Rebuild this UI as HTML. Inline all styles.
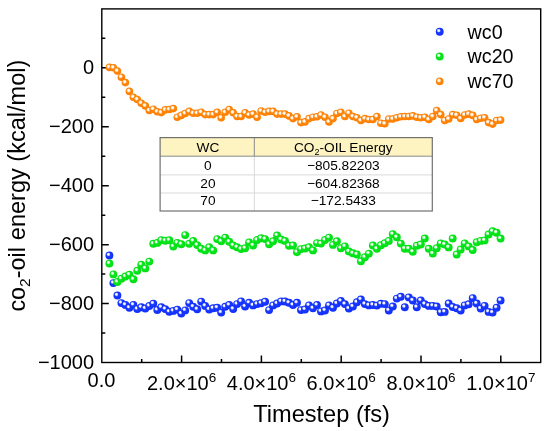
<!DOCTYPE html>
<html><head><meta charset="utf-8"><title>CO2-oil energy</title>
<style>
html,body{margin:0;padding:0;background:#fff;}
svg{display:block;font-family:"Liberation Sans", Arial, sans-serif;}
text{fill:#000;}
</style></head><body>
<svg width="550" height="431" viewBox="0 0 550 431">
<defs>
<radialGradient id="hl" cx="0.5" cy="0.5" r="0.5">
<stop offset="0" stop-color="#fff" stop-opacity="1"/><stop offset="0.4" stop-color="#fff" stop-opacity="0.92"/><stop offset="1" stop-color="#fff" stop-opacity="0"/>
</radialGradient>
<radialGradient id="gb" cx="0.5" cy="0.5" r="0.5" fx="0.36" fy="0.34"><stop offset="0" stop-color="#5a76ff"/><stop offset="0.5" stop-color="#1a38ff"/><stop offset="1" stop-color="#102efa"/></radialGradient>
<radialGradient id="gg" cx="0.5" cy="0.5" r="0.5" fx="0.36" fy="0.34"><stop offset="0" stop-color="#50f060"/><stop offset="0.5" stop-color="#08e61c"/><stop offset="1" stop-color="#02de14"/></radialGradient>
<radialGradient id="go" cx="0.5" cy="0.5" r="0.5" fx="0.38" fy="0.36"><stop offset="0" stop-color="#ffa850"/><stop offset="0.5" stop-color="#ff860c"/><stop offset="1" stop-color="#ff7e00"/></radialGradient>
<g id="mb"><circle r="3.95" fill="url(#gb)"/><circle cx="-1.0" cy="-1.15" r="2.15" fill="url(#hl)"/></g>
<g id="mg"><circle r="3.95" fill="url(#gg)"/><circle cx="-1.0" cy="-1.15" r="2.15" fill="url(#hl)"/></g>
<g id="mo"><circle r="3.8000000000000003" fill="url(#go)"/><circle cx="-0.8" cy="-0.9" r="2.4" fill="url(#hl)"/></g>
</defs>
<rect x="0" y="0" width="550" height="431" fill="#fff"/>

<rect x="101.8" y="8.9" width="438.9" height="353.6" fill="none" stroke="#000" stroke-width="1.4"/>
<path d="M101.8 38.37h3.5 M101.8 67.83h7 M101.8 97.30h3.5 M101.8 126.77h7 M101.8 156.23h3.5 M101.8 185.70h7 M101.8 215.17h3.5 M101.8 244.63h7 M101.8 274.10h3.5 M101.8 303.57h7 M101.8 333.03h3.5 M141.70 362.5v-3.5 M181.60 362.5v-7 M221.50 362.5v-3.5 M261.40 362.5v-7 M301.30 362.5v-3.5 M341.20 362.5v-7 M381.10 362.5v-3.5 M421.00 362.5v-7 M460.90 362.5v-3.5 M500.80 362.5v-7" stroke="#000" stroke-width="1.5" fill="none"/>
<text x="94.1" y="74.1" font-size="20" text-anchor="end">0</text>
<text x="94.1" y="133.1" font-size="20" text-anchor="end">−200</text>
<text x="94.1" y="192.0" font-size="20" text-anchor="end">−400</text>
<text x="94.1" y="250.9" font-size="20" text-anchor="end">−600</text>
<text x="94.1" y="309.9" font-size="20" text-anchor="end">−800</text>
<text x="94.1" y="368.8" font-size="20" text-anchor="end">−1000</text>
<text x="101.5" y="386.6" font-size="20" text-anchor="middle">0.0</text>
<text x="181.6" y="389.5" font-size="20" text-anchor="middle">2.0×10<tspan font-size="13.5" dy="-7.4">6</tspan></text>
<text x="261.4" y="389.5" font-size="20" text-anchor="middle">4.0×10<tspan font-size="13.5" dy="-7.4">6</tspan></text>
<text x="341.2" y="389.5" font-size="20" text-anchor="middle">6.0×10<tspan font-size="13.5" dy="-7.4">6</tspan></text>
<text x="421.0" y="389.5" font-size="20" text-anchor="middle">8.0×10<tspan font-size="13.5" dy="-7.4">6</tspan></text>
<text x="500.8" y="389.5" font-size="20" text-anchor="middle">1.0×10<tspan font-size="13.5" dy="-7.4">7</tspan></text>
<text x="321.6" y="422" font-size="23.6" text-anchor="middle">Timestep (fs)</text>
<text transform="translate(24.6 311.6) rotate(-90)" font-size="23.4">co<tspan font-size="15.5" dy="5">2</tspan><tspan dy="-5">-oil</tspan></text>
<text transform="translate(24.6 240.2) rotate(-90)" font-size="23.55">energy (kcal/mol)</text>
<g><use href="#mb" x="109.4" y="255.5"/>
<use href="#mb" x="113.4" y="283.1"/>
<use href="#mb" x="117.4" y="295.5"/>
<use href="#mb" x="121.4" y="303.1"/>
<use href="#mb" x="125.4" y="304.9"/>
<use href="#mb" x="129.4" y="307.8"/>
<use href="#mb" x="133.4" y="304.9"/>
<use href="#mb" x="137.3" y="309.1"/>
<use href="#mb" x="141.3" y="307.3"/>
<use href="#mb" x="145.3" y="308.5"/>
<use href="#mb" x="149.3" y="306.0"/>
<use href="#mb" x="153.3" y="303.6"/>
<use href="#mb" x="157.3" y="310.0"/>
<use href="#mb" x="161.3" y="307.3"/>
<use href="#mb" x="165.3" y="309.1"/>
<use href="#mb" x="169.3" y="311.8"/>
<use href="#mb" x="173.3" y="310.9"/>
<use href="#mb" x="177.3" y="309.6"/>
<use href="#mb" x="181.3" y="313.6"/>
<use href="#mb" x="185.2" y="310.4"/>
<use href="#mb" x="189.2" y="303.1"/>
<use href="#mb" x="193.2" y="306.7"/>
<use href="#mb" x="197.2" y="309.3"/>
<use href="#mb" x="201.2" y="301.6"/>
<use href="#mb" x="205.2" y="305.9"/>
<use href="#mb" x="209.2" y="309.5"/>
<use href="#mb" x="213.2" y="308.3"/>
<use href="#mb" x="217.2" y="307.7"/>
<use href="#mb" x="221.2" y="312.6"/>
<use href="#mb" x="225.2" y="306.8"/>
<use href="#mb" x="229.2" y="305.0"/>
<use href="#mb" x="233.2" y="309.0"/>
<use href="#mb" x="237.1" y="304.1"/>
<use href="#mb" x="241.1" y="301.4"/>
<use href="#mb" x="245.1" y="306.5"/>
<use href="#mb" x="249.1" y="302.8"/>
<use href="#mb" x="253.1" y="305.4"/>
<use href="#mb" x="257.1" y="304.1"/>
<use href="#mb" x="261.1" y="303.2"/>
<use href="#mb" x="265.1" y="301.7"/>
<use href="#mb" x="269.1" y="310.1"/>
<use href="#mb" x="273.1" y="305.4"/>
<use href="#mb" x="277.1" y="303.5"/>
<use href="#mb" x="281.1" y="301.4"/>
<use href="#mb" x="285.0" y="301.5"/>
<use href="#mb" x="289.0" y="302.8"/>
<use href="#mb" x="293.0" y="305.0"/>
<use href="#mb" x="297.0" y="302.8"/>
<use href="#mb" x="301.0" y="310.1"/>
<use href="#mb" x="305.0" y="309.5"/>
<use href="#mb" x="309.0" y="305.4"/>
<use href="#mb" x="313.0" y="308.3"/>
<use href="#mb" x="317.0" y="305.0"/>
<use href="#mb" x="321.0" y="311.4"/>
<use href="#mb" x="325.0" y="310.5"/>
<use href="#mb" x="329.0" y="305.4"/>
<use href="#mb" x="333.0" y="307.7"/>
<use href="#mb" x="336.9" y="303.5"/>
<use href="#mb" x="340.9" y="301.0"/>
<use href="#mb" x="344.9" y="304.1"/>
<use href="#mb" x="348.9" y="308.6"/>
<use href="#mb" x="352.9" y="306.5"/>
<use href="#mb" x="356.9" y="302.3"/>
<use href="#mb" x="360.9" y="299.5"/>
<use href="#mb" x="364.9" y="304.1"/>
<use href="#mb" x="368.9" y="305.4"/>
<use href="#mb" x="372.9" y="305.0"/>
<use href="#mb" x="376.9" y="305.6"/>
<use href="#mb" x="380.9" y="303.8"/>
<use href="#mb" x="384.8" y="304.1"/>
<use href="#mb" x="388.8" y="310.5"/>
<use href="#mb" x="392.8" y="306.5"/>
<use href="#mb" x="396.8" y="298.6"/>
<use href="#mb" x="400.8" y="296.8"/>
<use href="#mb" x="404.8" y="307.2"/>
<use href="#mb" x="408.8" y="297.4"/>
<use href="#mb" x="412.8" y="300.5"/>
<use href="#mb" x="416.8" y="307.2"/>
<use href="#mb" x="420.8" y="300.5"/>
<use href="#mb" x="424.8" y="304.1"/>
<use href="#mb" x="428.8" y="305.9"/>
<use href="#mb" x="432.8" y="305.9"/>
<use href="#mb" x="436.7" y="306.5"/>
<use href="#mb" x="440.7" y="312.3"/>
<use href="#mb" x="444.7" y="311.9"/>
<use href="#mb" x="448.7" y="303.5"/>
<use href="#mb" x="452.7" y="307.0"/>
<use href="#mb" x="456.7" y="308.3"/>
<use href="#mb" x="460.7" y="310.5"/>
<use href="#mb" x="464.7" y="305.4"/>
<use href="#mb" x="468.7" y="304.3"/>
<use href="#mb" x="472.7" y="298.1"/>
<use href="#mb" x="476.7" y="303.5"/>
<use href="#mb" x="480.7" y="308.6"/>
<use href="#mb" x="484.6" y="305.9"/>
<use href="#mb" x="488.6" y="311.9"/>
<use href="#mb" x="492.6" y="312.6"/>
<use href="#mb" x="496.6" y="307.7"/>
<use href="#mb" x="500.6" y="300.5"/></g>
<g><use href="#mg" x="109.4" y="263.5"/>
<use href="#mg" x="113.4" y="274.4"/>
<use href="#mg" x="117.4" y="282.0"/>
<use href="#mg" x="121.4" y="278.7"/>
<use href="#mg" x="125.4" y="276.5"/>
<use href="#mg" x="129.4" y="274.7"/>
<use href="#mg" x="133.4" y="279.3"/>
<use href="#mg" x="137.3" y="270.7"/>
<use href="#mg" x="141.3" y="264.7"/>
<use href="#mg" x="145.3" y="268.4"/>
<use href="#mg" x="149.3" y="261.6"/>
<use href="#mg" x="153.3" y="243.8"/>
<use href="#mg" x="157.3" y="242.9"/>
<use href="#mg" x="161.3" y="240.2"/>
<use href="#mg" x="165.3" y="240.7"/>
<use href="#mg" x="169.3" y="240.2"/>
<use href="#mg" x="173.3" y="246.5"/>
<use href="#mg" x="177.3" y="242.9"/>
<use href="#mg" x="181.3" y="244.2"/>
<use href="#mg" x="185.2" y="235.1"/>
<use href="#mg" x="189.2" y="243.8"/>
<use href="#mg" x="193.2" y="241.0"/>
<use href="#mg" x="197.2" y="245.1"/>
<use href="#mg" x="201.2" y="248.7"/>
<use href="#mg" x="205.2" y="250.4"/>
<use href="#mg" x="209.2" y="247.3"/>
<use href="#mg" x="213.2" y="250.4"/>
<use href="#mg" x="217.2" y="239.1"/>
<use href="#mg" x="221.2" y="241.3"/>
<use href="#mg" x="225.2" y="237.6"/>
<use href="#mg" x="229.2" y="241.8"/>
<use href="#mg" x="233.2" y="245.5"/>
<use href="#mg" x="237.1" y="247.3"/>
<use href="#mg" x="241.1" y="249.1"/>
<use href="#mg" x="245.1" y="248.2"/>
<use href="#mg" x="249.1" y="242.4"/>
<use href="#mg" x="253.1" y="245.5"/>
<use href="#mg" x="257.1" y="240.0"/>
<use href="#mg" x="261.1" y="238.2"/>
<use href="#mg" x="265.1" y="239.1"/>
<use href="#mg" x="269.1" y="244.2"/>
<use href="#mg" x="273.1" y="241.3"/>
<use href="#mg" x="277.1" y="235.5"/>
<use href="#mg" x="281.1" y="239.5"/>
<use href="#mg" x="285.0" y="240.9"/>
<use href="#mg" x="289.0" y="245.8"/>
<use href="#mg" x="293.0" y="245.5"/>
<use href="#mg" x="297.0" y="252.2"/>
<use href="#mg" x="301.0" y="249.1"/>
<use href="#mg" x="305.0" y="248.5"/>
<use href="#mg" x="309.0" y="247.3"/>
<use href="#mg" x="313.0" y="250.4"/>
<use href="#mg" x="317.0" y="243.1"/>
<use href="#mg" x="321.0" y="243.6"/>
<use href="#mg" x="325.0" y="240.0"/>
<use href="#mg" x="329.0" y="237.6"/>
<use href="#mg" x="333.0" y="244.9"/>
<use href="#mg" x="336.9" y="241.3"/>
<use href="#mg" x="340.9" y="248.2"/>
<use href="#mg" x="344.9" y="246.4"/>
<use href="#mg" x="348.9" y="251.5"/>
<use href="#mg" x="352.9" y="253.3"/>
<use href="#mg" x="356.9" y="254.5"/>
<use href="#mg" x="360.9" y="261.3"/>
<use href="#mg" x="364.9" y="257.3"/>
<use href="#mg" x="368.9" y="253.6"/>
<use href="#mg" x="372.9" y="245.5"/>
<use href="#mg" x="376.9" y="248.8"/>
<use href="#mg" x="380.9" y="245.2"/>
<use href="#mg" x="384.8" y="243.3"/>
<use href="#mg" x="388.8" y="240.9"/>
<use href="#mg" x="392.8" y="234.2"/>
<use href="#mg" x="396.8" y="237.3"/>
<use href="#mg" x="400.8" y="243.6"/>
<use href="#mg" x="404.8" y="248.7"/>
<use href="#mg" x="408.8" y="248.7"/>
<use href="#mg" x="412.8" y="251.8"/>
<use href="#mg" x="416.8" y="245.8"/>
<use href="#mg" x="420.8" y="244.5"/>
<use href="#mg" x="424.8" y="238.5"/>
<use href="#mg" x="428.8" y="248.7"/>
<use href="#mg" x="432.8" y="253.6"/>
<use href="#mg" x="436.7" y="248.2"/>
<use href="#mg" x="440.7" y="243.4"/>
<use href="#mg" x="444.7" y="244.5"/>
<use href="#mg" x="448.7" y="247.4"/>
<use href="#mg" x="452.7" y="238.5"/>
<use href="#mg" x="456.7" y="254.5"/>
<use href="#mg" x="460.7" y="249.5"/>
<use href="#mg" x="464.7" y="243.4"/>
<use href="#mg" x="468.7" y="246.4"/>
<use href="#mg" x="472.7" y="250.0"/>
<use href="#mg" x="476.7" y="242.2"/>
<use href="#mg" x="480.7" y="240.9"/>
<use href="#mg" x="484.6" y="240.4"/>
<use href="#mg" x="488.6" y="234.5"/>
<use href="#mg" x="492.6" y="231.3"/>
<use href="#mg" x="496.6" y="232.7"/>
<use href="#mg" x="500.6" y="238.5"/></g>
<g><use href="#mo" x="109.4" y="67.4"/>
<use href="#mo" x="113.4" y="67.7"/>
<use href="#mo" x="117.4" y="71.0"/>
<use href="#mo" x="121.4" y="77.2"/>
<use href="#mo" x="125.4" y="82.6"/>
<use href="#mo" x="129.4" y="91.4"/>
<use href="#mo" x="133.4" y="97.2"/>
<use href="#mo" x="137.3" y="99.5"/>
<use href="#mo" x="141.3" y="103.2"/>
<use href="#mo" x="145.3" y="105.9"/>
<use href="#mo" x="149.3" y="110.5"/>
<use href="#mo" x="153.3" y="109.2"/>
<use href="#mo" x="157.3" y="111.7"/>
<use href="#mo" x="161.3" y="112.6"/>
<use href="#mo" x="165.3" y="109.9"/>
<use href="#mo" x="169.3" y="109.5"/>
<use href="#mo" x="173.3" y="108.6"/>
<use href="#mo" x="177.3" y="117.2"/>
<use href="#mo" x="181.3" y="115.4"/>
<use href="#mo" x="185.2" y="113.5"/>
<use href="#mo" x="189.2" y="111.4"/>
<use href="#mo" x="193.2" y="113.3"/>
<use href="#mo" x="197.2" y="113.3"/>
<use href="#mo" x="201.2" y="112.3"/>
<use href="#mo" x="205.2" y="114.6"/>
<use href="#mo" x="209.2" y="114.6"/>
<use href="#mo" x="213.2" y="114.6"/>
<use href="#mo" x="217.2" y="112.3"/>
<use href="#mo" x="221.2" y="117.7"/>
<use href="#mo" x="225.2" y="112.3"/>
<use href="#mo" x="229.2" y="109.5"/>
<use href="#mo" x="233.2" y="112.8"/>
<use href="#mo" x="237.1" y="116.5"/>
<use href="#mo" x="241.1" y="116.5"/>
<use href="#mo" x="245.1" y="112.8"/>
<use href="#mo" x="249.1" y="115.0"/>
<use href="#mo" x="253.1" y="114.1"/>
<use href="#mo" x="257.1" y="117.2"/>
<use href="#mo" x="261.1" y="111.0"/>
<use href="#mo" x="265.1" y="112.3"/>
<use href="#mo" x="269.1" y="111.4"/>
<use href="#mo" x="273.1" y="111.4"/>
<use href="#mo" x="277.1" y="114.1"/>
<use href="#mo" x="281.1" y="114.1"/>
<use href="#mo" x="285.0" y="114.1"/>
<use href="#mo" x="289.0" y="115.9"/>
<use href="#mo" x="293.0" y="118.6"/>
<use href="#mo" x="297.0" y="116.8"/>
<use href="#mo" x="301.0" y="122.6"/>
<use href="#mo" x="305.0" y="121.9"/>
<use href="#mo" x="309.0" y="118.6"/>
<use href="#mo" x="313.0" y="117.2"/>
<use href="#mo" x="317.0" y="116.8"/>
<use href="#mo" x="321.0" y="115.0"/>
<use href="#mo" x="325.0" y="117.2"/>
<use href="#mo" x="329.0" y="121.9"/>
<use href="#mo" x="333.0" y="118.6"/>
<use href="#mo" x="336.9" y="113.5"/>
<use href="#mo" x="340.9" y="112.3"/>
<use href="#mo" x="344.9" y="116.5"/>
<use href="#mo" x="348.9" y="113.2"/>
<use href="#mo" x="352.9" y="116.5"/>
<use href="#mo" x="356.9" y="117.7"/>
<use href="#mo" x="360.9" y="120.5"/>
<use href="#mo" x="364.9" y="118.6"/>
<use href="#mo" x="368.9" y="119.5"/>
<use href="#mo" x="372.9" y="119.5"/>
<use href="#mo" x="376.9" y="116.5"/>
<use href="#mo" x="380.9" y="123.2"/>
<use href="#mo" x="384.8" y="123.7"/>
<use href="#mo" x="388.8" y="119.0"/>
<use href="#mo" x="392.8" y="119.0"/>
<use href="#mo" x="396.8" y="117.7"/>
<use href="#mo" x="400.8" y="116.8"/>
<use href="#mo" x="404.8" y="116.5"/>
<use href="#mo" x="408.8" y="116.5"/>
<use href="#mo" x="412.8" y="115.9"/>
<use href="#mo" x="416.8" y="117.2"/>
<use href="#mo" x="420.8" y="117.7"/>
<use href="#mo" x="424.8" y="117.2"/>
<use href="#mo" x="428.8" y="119.5"/>
<use href="#mo" x="432.8" y="116.5"/>
<use href="#mo" x="436.7" y="110.5"/>
<use href="#mo" x="440.7" y="114.6"/>
<use href="#mo" x="444.7" y="120.5"/>
<use href="#mo" x="448.7" y="119.0"/>
<use href="#mo" x="452.7" y="114.6"/>
<use href="#mo" x="456.7" y="115.2"/>
<use href="#mo" x="460.7" y="118.5"/>
<use href="#mo" x="464.7" y="115.0"/>
<use href="#mo" x="468.7" y="114.1"/>
<use href="#mo" x="472.7" y="115.4"/>
<use href="#mo" x="476.7" y="119.5"/>
<use href="#mo" x="480.7" y="118.3"/>
<use href="#mo" x="484.6" y="117.7"/>
<use href="#mo" x="488.6" y="122.6"/>
<use href="#mo" x="492.6" y="124.1"/>
<use href="#mo" x="496.6" y="120.5"/>
<use href="#mo" x="500.6" y="120.1"/></g>
<use href="#mb" x="439.7" y="31.7"/>
<text x="467.6" y="39.0" font-size="19.7">wc0</text>
<use href="#mg" x="439.7" y="56.5"/>
<text x="467.6" y="63.4" font-size="19.7">wc20</text>
<use href="#mo" x="439.7" y="81.4"/>
<text x="467.6" y="88.0" font-size="19.7">wc70</text>
<rect x="160.1" y="137.6" width="272.2" height="73.4" fill="#fff"/>
<rect x="160.1" y="137.6" width="272.2" height="18.6" fill="#fdf4c2"/>
<path d="M160.1 174.9H432.3M160.1 193.0H432.3M254.3 156.2V211.0" stroke="#d9d9d9" stroke-width="1" fill="none"/>
<path d="M160.1 156.2H432.3M254.3 137.6V156.2" stroke="#8a8a8a" stroke-width="1" fill="none"/>
<rect x="160.1" y="137.6" width="272.2" height="73.4" fill="none" stroke="#707070" stroke-width="1.2"/>
<text x="207.9" y="151.8" font-size="13.7" text-anchor="middle">WC</text>
<text x="343.3" y="151.8" font-size="13.7" text-anchor="middle">CO<tspan font-size="9" dy="3">2</tspan><tspan dy="-3">-OIL Energy</tspan></text>
<text x="207.9" y="169.6" font-size="13.7" text-anchor="middle">0</text>
<text x="343.3" y="169.6" font-size="13.7" text-anchor="middle">−805.82203</text>
<text x="207.9" y="187.8" font-size="13.7" text-anchor="middle">20</text>
<text x="343.3" y="187.8" font-size="13.7" text-anchor="middle">−604.82368</text>
<text x="207.9" y="205.2" font-size="13.7" text-anchor="middle">70</text>
<text x="343.3" y="205.2" font-size="13.7" text-anchor="middle">−172.5433</text>
</svg></body></html>
